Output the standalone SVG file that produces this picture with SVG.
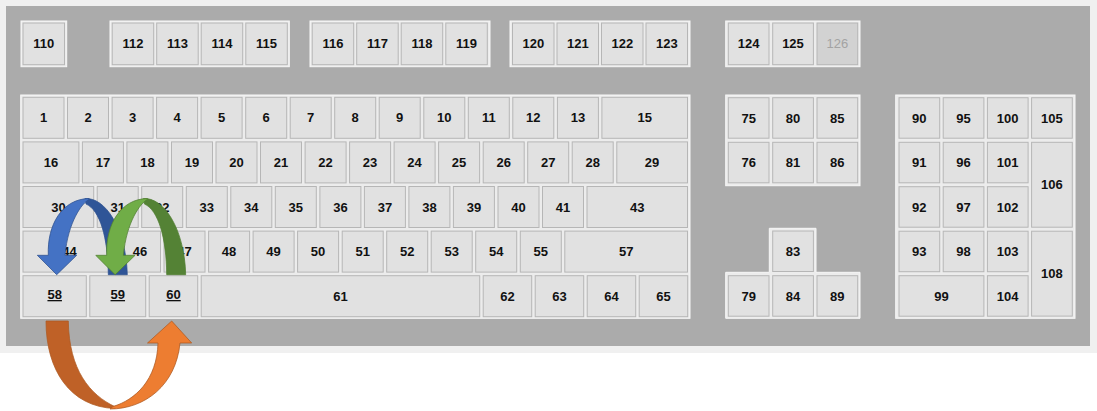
<svg xmlns="http://www.w3.org/2000/svg" width="1097" height="411" viewBox="0 0 1097 411">
<style>
.bg{fill:#f0f0f0}
.panel{fill:#ababab}
.grp{fill:#ececec;stroke:#f7f7f7;stroke-width:1}
.k rect{fill:#e1e1e1;stroke:#b6b6b6;stroke-width:1}
.k text{font-family:"Liberation Sans",Arial,sans-serif;font-size:13px;font-weight:bold;fill:#111;text-anchor:middle}
.k.off rect{fill:#d2d2d2}
.k.off text{fill:#a3a3a3;font-weight:normal}
.u{text-decoration:underline}
.bl1{fill:#4472c4;stroke:#2f528f;stroke-width:0.75}
.bl2{fill:#2f5597;stroke:#2f528f;stroke-width:0.75}
.gr1{fill:#70ad47;stroke:#507e32;stroke-width:0.75}
.gr2{fill:#548235;stroke:#507e32;stroke-width:0.75}
.or1{fill:#ed7d31;stroke:#ae5a21;stroke-width:0.75}
.or2{fill:#bf6127;stroke:#ae5a21;stroke-width:0.75}
</style>
<rect class="bg" x="0" y="0" width="1097" height="353"/>
<rect x="0" y="353" width="1097" height="58" fill="#ffffff"/>
<rect class="panel" x="6" y="6" width="1084" height="340"/>

<g id="frames">
<rect class="grp" x="21" y="21" width="45.7" height="45.7"/>
<rect class="grp" x="110" y="21" width="179.3" height="45.7"/>
<rect class="grp" x="310" y="21" width="180" height="45.7"/>
<rect class="grp" x="510" y="21" width="180" height="45.7"/>
<rect class="grp" x="725.7" y="21" width="134.3" height="45.7"/>
<rect class="grp" x="20.7" y="95" width="669.3" height="223.3"/>
<rect class="grp" x="725.7" y="95" width="134.3" height="90.7"/>
<path class="grp" d="M769.3 228.3 H816 V272.3 H860 V318.3 H725.7 V272.3 H769.3 Z"/>
<rect class="grp" x="895.7" y="95" width="179.3" height="223.3"/>
</g>

<g id="key-110" class="k"><rect x="23" y="23" width="41.5" height="41.7"/><text x="43.8" y="48.3">110</text></g>
<g id="key-112" class="k"><rect x="112.2" y="23" width="41.5" height="41.7"/><text x="133" y="48.3">112</text></g>
<g id="key-113" class="k"><rect x="156.7" y="23" width="41.5" height="41.7"/><text x="177.5" y="48.3">113</text></g>
<g id="key-114" class="k"><rect x="201.2" y="23" width="41.5" height="41.7"/><text x="222" y="48.3">114</text></g>
<g id="key-115" class="k"><rect x="245.8" y="23" width="41.5" height="41.7"/><text x="266.5" y="48.3">115</text></g>
<g id="key-116" class="k"><rect x="312.2" y="23" width="41.5" height="41.7"/><text x="333" y="48.3">116</text></g>
<g id="key-117" class="k"><rect x="356.7" y="23" width="41.5" height="41.7"/><text x="377.5" y="48.3">117</text></g>
<g id="key-118" class="k"><rect x="401.2" y="23" width="41.5" height="41.7"/><text x="422" y="48.3">118</text></g>
<g id="key-119" class="k"><rect x="445.8" y="23" width="41.5" height="41.7"/><text x="466.5" y="48.3">119</text></g>
<g id="key-120" class="k"><rect x="512.5" y="23" width="41.5" height="41.7"/><text x="533.3" y="48.3">120</text></g>
<g id="key-121" class="k"><rect x="557" y="23" width="41.5" height="41.7"/><text x="577.8" y="48.3">121</text></g>
<g id="key-122" class="k"><rect x="601.5" y="23" width="41.5" height="41.7"/><text x="622.3" y="48.3">122</text></g>
<g id="key-123" class="k"><rect x="646" y="23" width="41.5" height="41.7"/><text x="666.8" y="48.3">123</text></g>
<g id="key-124" class="k"><rect x="728.3" y="23" width="40.7" height="41.7"/><text x="748.7" y="48.3">124</text></g>
<g id="key-125" class="k"><rect x="772.7" y="23" width="40.7" height="41.7"/><text x="793" y="48.3">125</text></g>
<g id="key-126" class="k off"><rect x="817" y="23" width="40.7" height="41.7"/><text x="837.3" y="48.3">126</text></g>

<g id="key-1" class="k"><rect x="23" y="97.3" width="41" height="41"/><text x="43.5" y="122.3">1</text></g>
<g id="key-2" class="k"><rect x="67.5" y="97.3" width="41" height="41"/><text x="88" y="122.3">2</text></g>
<g id="key-3" class="k"><rect x="112.1" y="97.3" width="41" height="41"/><text x="132.6" y="122.3">3</text></g>
<g id="key-4" class="k"><rect x="156.6" y="97.3" width="41" height="41"/><text x="177.1" y="122.3">4</text></g>
<g id="key-5" class="k"><rect x="201.1" y="97.3" width="41" height="41"/><text x="221.6" y="122.3">5</text></g>
<g id="key-6" class="k"><rect x="245.7" y="97.3" width="41" height="41"/><text x="266.2" y="122.3">6</text></g>
<g id="key-7" class="k"><rect x="290.2" y="97.3" width="41" height="41"/><text x="310.7" y="122.3">7</text></g>
<g id="key-8" class="k"><rect x="334.7" y="97.3" width="41" height="41"/><text x="355.2" y="122.3">8</text></g>
<g id="key-9" class="k"><rect x="379.2" y="97.3" width="41" height="41"/><text x="399.7" y="122.3">9</text></g>
<g id="key-10" class="k"><rect x="423.8" y="97.3" width="41" height="41"/><text x="444.3" y="122.3">10</text></g>
<g id="key-11" class="k"><rect x="468.3" y="97.3" width="41" height="41"/><text x="488.8" y="122.3">11</text></g>
<g id="key-12" class="k"><rect x="512.8" y="97.3" width="41" height="41"/><text x="533.3" y="122.3">12</text></g>
<g id="key-13" class="k"><rect x="557.4" y="97.3" width="41" height="41"/><text x="577.9" y="122.3">13</text></g>
<g id="key-15" class="k"><rect x="601.9" y="97.3" width="85.6" height="41"/><text x="644.7" y="122.3">15</text></g>

<g id="key-16" class="k"><rect x="23" y="141.9" width="55.9" height="41"/><text x="51" y="166.9">16</text></g>
<g id="key-17" class="k"><rect x="82.4" y="141.9" width="41" height="41"/><text x="102.9" y="166.9">17</text></g>
<g id="key-18" class="k"><rect x="126.9" y="141.9" width="41" height="41"/><text x="147.4" y="166.9">18</text></g>
<g id="key-19" class="k"><rect x="171.5" y="141.9" width="41" height="41"/><text x="192" y="166.9">19</text></g>
<g id="key-20" class="k"><rect x="216" y="141.9" width="41" height="41"/><text x="236.5" y="166.9">20</text></g>
<g id="key-21" class="k"><rect x="260.5" y="141.9" width="41" height="41"/><text x="281" y="166.9">21</text></g>
<g id="key-22" class="k"><rect x="305.1" y="141.9" width="41" height="41"/><text x="325.6" y="166.9">22</text></g>
<g id="key-23" class="k"><rect x="349.6" y="141.9" width="41" height="41"/><text x="370.1" y="166.9">23</text></g>
<g id="key-24" class="k"><rect x="394.1" y="141.9" width="41" height="41"/><text x="414.6" y="166.9">24</text></g>
<g id="key-25" class="k"><rect x="438.6" y="141.9" width="41" height="41"/><text x="459.1" y="166.9">25</text></g>
<g id="key-26" class="k"><rect x="483.2" y="141.9" width="41" height="41"/><text x="503.7" y="166.9">26</text></g>
<g id="key-27" class="k"><rect x="527.7" y="141.9" width="41" height="41"/><text x="548.2" y="166.9">27</text></g>
<g id="key-28" class="k"><rect x="572.2" y="141.9" width="41" height="41"/><text x="592.7" y="166.9">28</text></g>
<g id="key-29" class="k"><rect x="616.8" y="141.9" width="70.7" height="41"/><text x="652.1" y="166.9">29</text></g>

<g id="key-30" class="k"><rect x="23" y="186.5" width="70.7" height="41"/><text x="58.4" y="211.5">30</text></g>
<g id="key-31" class="k"><rect x="97.2" y="186.5" width="41" height="41"/><text x="117.7" y="211.5">31</text></g>
<g id="key-32" class="k"><rect x="141.7" y="186.5" width="41" height="41"/><text x="162.2" y="211.5">32</text></g>
<g id="key-33" class="k"><rect x="186.3" y="186.5" width="41" height="41"/><text x="206.8" y="211.5">33</text></g>
<g id="key-34" class="k"><rect x="230.8" y="186.5" width="41" height="41"/><text x="251.3" y="211.5">34</text></g>
<g id="key-35" class="k"><rect x="275.3" y="186.5" width="41" height="41"/><text x="295.8" y="211.5">35</text></g>
<g id="key-36" class="k"><rect x="319.9" y="186.5" width="41" height="41"/><text x="340.4" y="211.5">36</text></g>
<g id="key-37" class="k"><rect x="364.4" y="186.5" width="41" height="41"/><text x="384.9" y="211.5">37</text></g>
<g id="key-38" class="k"><rect x="408.9" y="186.5" width="41" height="41"/><text x="429.4" y="211.5">38</text></g>
<g id="key-39" class="k"><rect x="453.4" y="186.5" width="41" height="41"/><text x="473.9" y="211.5">39</text></g>
<g id="key-40" class="k"><rect x="498" y="186.5" width="41" height="41"/><text x="518.5" y="211.5">40</text></g>
<g id="key-41" class="k"><rect x="542.5" y="186.5" width="41" height="41"/><text x="563" y="211.5">41</text></g>
<g id="key-43" class="k"><rect x="587" y="186.5" width="100.5" height="41"/><text x="637.3" y="211.5">43</text></g>

<g id="key-44" class="k"><rect x="23" y="231.1" width="93" height="41"/><text x="69.5" y="256.1">44</text></g>
<g id="key-46" class="k"><rect x="119.5" y="231.1" width="41" height="41"/><text x="140" y="256.1">46</text></g>
<g id="key-47" class="k"><rect x="164" y="231.1" width="41" height="41"/><text x="184.5" y="256.1">47</text></g>
<g id="key-48" class="k"><rect x="208.6" y="231.1" width="41" height="41"/><text x="229.1" y="256.1">48</text></g>
<g id="key-49" class="k"><rect x="253.1" y="231.1" width="41" height="41"/><text x="273.6" y="256.1">49</text></g>
<g id="key-50" class="k"><rect x="297.6" y="231.1" width="41" height="41"/><text x="318.1" y="256.1">50</text></g>
<g id="key-51" class="k"><rect x="342.2" y="231.1" width="41" height="41"/><text x="362.7" y="256.1">51</text></g>
<g id="key-52" class="k"><rect x="386.7" y="231.1" width="41" height="41"/><text x="407.2" y="256.1">52</text></g>
<g id="key-53" class="k"><rect x="431.2" y="231.1" width="41" height="41"/><text x="451.7" y="256.1">53</text></g>
<g id="key-54" class="k"><rect x="475.7" y="231.1" width="41" height="41"/><text x="496.2" y="256.1">54</text></g>
<g id="key-55" class="k"><rect x="520.3" y="231.1" width="41" height="41"/><text x="540.8" y="256.1">55</text></g>
<g id="key-57" class="k"><rect x="564.8" y="231.1" width="122.7" height="41"/><text x="626.2" y="256.1">57</text></g>

<g id="key-58" class="k"><rect x="23" y="275.7" width="63.3" height="41"/><text class="u" x="54.7" y="299">58</text></g>
<g id="key-59" class="k"><rect x="89.8" y="275.7" width="55.9" height="41"/><text class="u" x="117.8" y="299">59</text></g>
<g id="key-60" class="k"><rect x="149.2" y="275.7" width="48.5" height="41"/><text class="u" x="173.5" y="299">60</text></g>
<g id="key-61" class="k"><rect x="201.2" y="275.7" width="278.5" height="41"/><text x="340.5" y="300.7">61</text></g>
<g id="key-62" class="k"><rect x="483.2" y="275.7" width="48.5" height="41"/><text x="507.5" y="300.7">62</text></g>
<g id="key-63" class="k"><rect x="535.2" y="275.7" width="48.5" height="41"/><text x="559.5" y="300.7">63</text></g>
<g id="key-64" class="k"><rect x="587.2" y="275.7" width="48.5" height="41"/><text x="611.5" y="300.7">64</text></g>
<g id="key-65" class="k"><rect x="639.2" y="275.7" width="48.5" height="41"/><text x="663.5" y="300.7">65</text></g>

<g id="key-75" class="k"><rect x="728.3" y="97.7" width="40.7" height="40.5"/><text x="748.7" y="122.5">75</text></g>
<g id="key-80" class="k"><rect x="772.7" y="97.7" width="40.7" height="40.5"/><text x="793" y="122.5">80</text></g>
<g id="key-85" class="k"><rect x="817" y="97.7" width="40.7" height="40.5"/><text x="837.3" y="122.5">85</text></g>
<g id="key-76" class="k"><rect x="728.3" y="142.3" width="40.7" height="40.5"/><text x="748.7" y="167.1">76</text></g>
<g id="key-81" class="k"><rect x="772.7" y="142.3" width="40.7" height="40.5"/><text x="793" y="167.1">81</text></g>
<g id="key-86" class="k"><rect x="817" y="142.3" width="40.7" height="40.5"/><text x="837.3" y="167.1">86</text></g>
<g id="key-83" class="k"><rect x="772.7" y="231" width="40.7" height="40.5"/><text x="793" y="255.8">83</text></g>
<g id="key-79" class="k"><rect x="728.3" y="275.7" width="40.7" height="40.5"/><text x="748.7" y="300.5">79</text></g>
<g id="key-84" class="k"><rect x="772.7" y="275.7" width="40.7" height="40.5"/><text x="793" y="300.5">84</text></g>
<g id="key-89" class="k"><rect x="817" y="275.7" width="40.7" height="40.5"/><text x="837.3" y="300.5">89</text></g>

<g id="key-90" class="k"><rect x="899" y="97.7" width="40.7" height="40.5"/><text x="919.3" y="122.5">90</text></g>
<g id="key-95" class="k"><rect x="943.2" y="97.7" width="40.7" height="40.5"/><text x="963.5" y="122.5">95</text></g>
<g id="key-100" class="k"><rect x="987.4" y="97.7" width="40.7" height="40.5"/><text x="1007.7" y="122.5">100</text></g>
<g id="key-105" class="k"><rect x="1031.6" y="97.7" width="40.7" height="40.5"/><text x="1051.9" y="122.5">105</text></g>
<g id="key-91" class="k"><rect x="899" y="142.3" width="40.7" height="40.5"/><text x="919.3" y="167.1">91</text></g>
<g id="key-96" class="k"><rect x="943.2" y="142.3" width="40.7" height="40.5"/><text x="963.5" y="167.1">96</text></g>
<g id="key-101" class="k"><rect x="987.4" y="142.3" width="40.7" height="40.5"/><text x="1007.7" y="167.1">101</text></g>
<g id="key-106" class="k"><rect x="1031.6" y="142.3" width="40.7" height="84.9"/><text x="1051.9" y="189.3">106</text></g>
<g id="key-92" class="k"><rect x="899" y="186.7" width="40.7" height="40.5"/><text x="919.3" y="211.5">92</text></g>
<g id="key-97" class="k"><rect x="943.2" y="186.7" width="40.7" height="40.5"/><text x="963.5" y="211.5">97</text></g>
<g id="key-102" class="k"><rect x="987.4" y="186.7" width="40.7" height="40.5"/><text x="1007.7" y="211.5">102</text></g>
<g id="key-93" class="k"><rect x="899" y="231.2" width="40.7" height="40.5"/><text x="919.3" y="256">93</text></g>
<g id="key-98" class="k"><rect x="943.2" y="231.2" width="40.7" height="40.5"/><text x="963.5" y="256">98</text></g>
<g id="key-103" class="k"><rect x="987.4" y="231.2" width="40.7" height="40.5"/><text x="1007.7" y="256">103</text></g>
<g id="key-108" class="k"><rect x="1031.6" y="231.2" width="40.7" height="84.9"/><text x="1051.9" y="278.2">108</text></g>
<g id="key-99" class="k"><rect x="899" y="275.7" width="84.9" height="40.5"/><text x="941.5" y="300.5">99</text></g>
<g id="key-104" class="k"><rect x="987.4" y="275.7" width="40.7" height="40.5"/><text x="1007.7" y="300.5">104</text></g>

<g id="connectors">
<g id="arrow-blue">
<path class="bl2" d="M85 198.6 C105 197 126 228 127.3 274.7 L108.3 274.7 C108 238 100 210 86 204 Z"/>
<path class="bl1" d="M37.3 255.3 L56.7 274.7 L76.7 255.3 L65 255.3 C68 222 82 203 89 199.5 L89 198.5 C62 199 47 225 48.3 255.3 Z"/>
</g>
<g id="arrow-green" transform="translate(58.4 0)">
<path class="gr2" d="M85 198.6 C105 197 126 228 127.3 274.7 L108.3 274.7 C108 238 100 210 86 204 Z"/>
<path class="gr1" d="M37.3 255.3 L56.7 274.7 L76.7 255.3 L65 255.3 C68 222 82 203 89 199.5 L89 198.5 C62 199 47 225 48.3 255.3 Z"/>
</g>
<g id="arrow-orange">
<path class="or2" d="M46 321 L68.3 321 C69 370 90 395 115 406.7 L115 408.5 C70 407 46 370 46 321 Z"/>
<path class="or1" d="M110 409 C145 409 176 385 180 343 L191.7 343 L171.7 321 L147.5 343 L158 343 C157 380 135 400 113 406.5 Z"/>
</g>
</g>
</svg>
